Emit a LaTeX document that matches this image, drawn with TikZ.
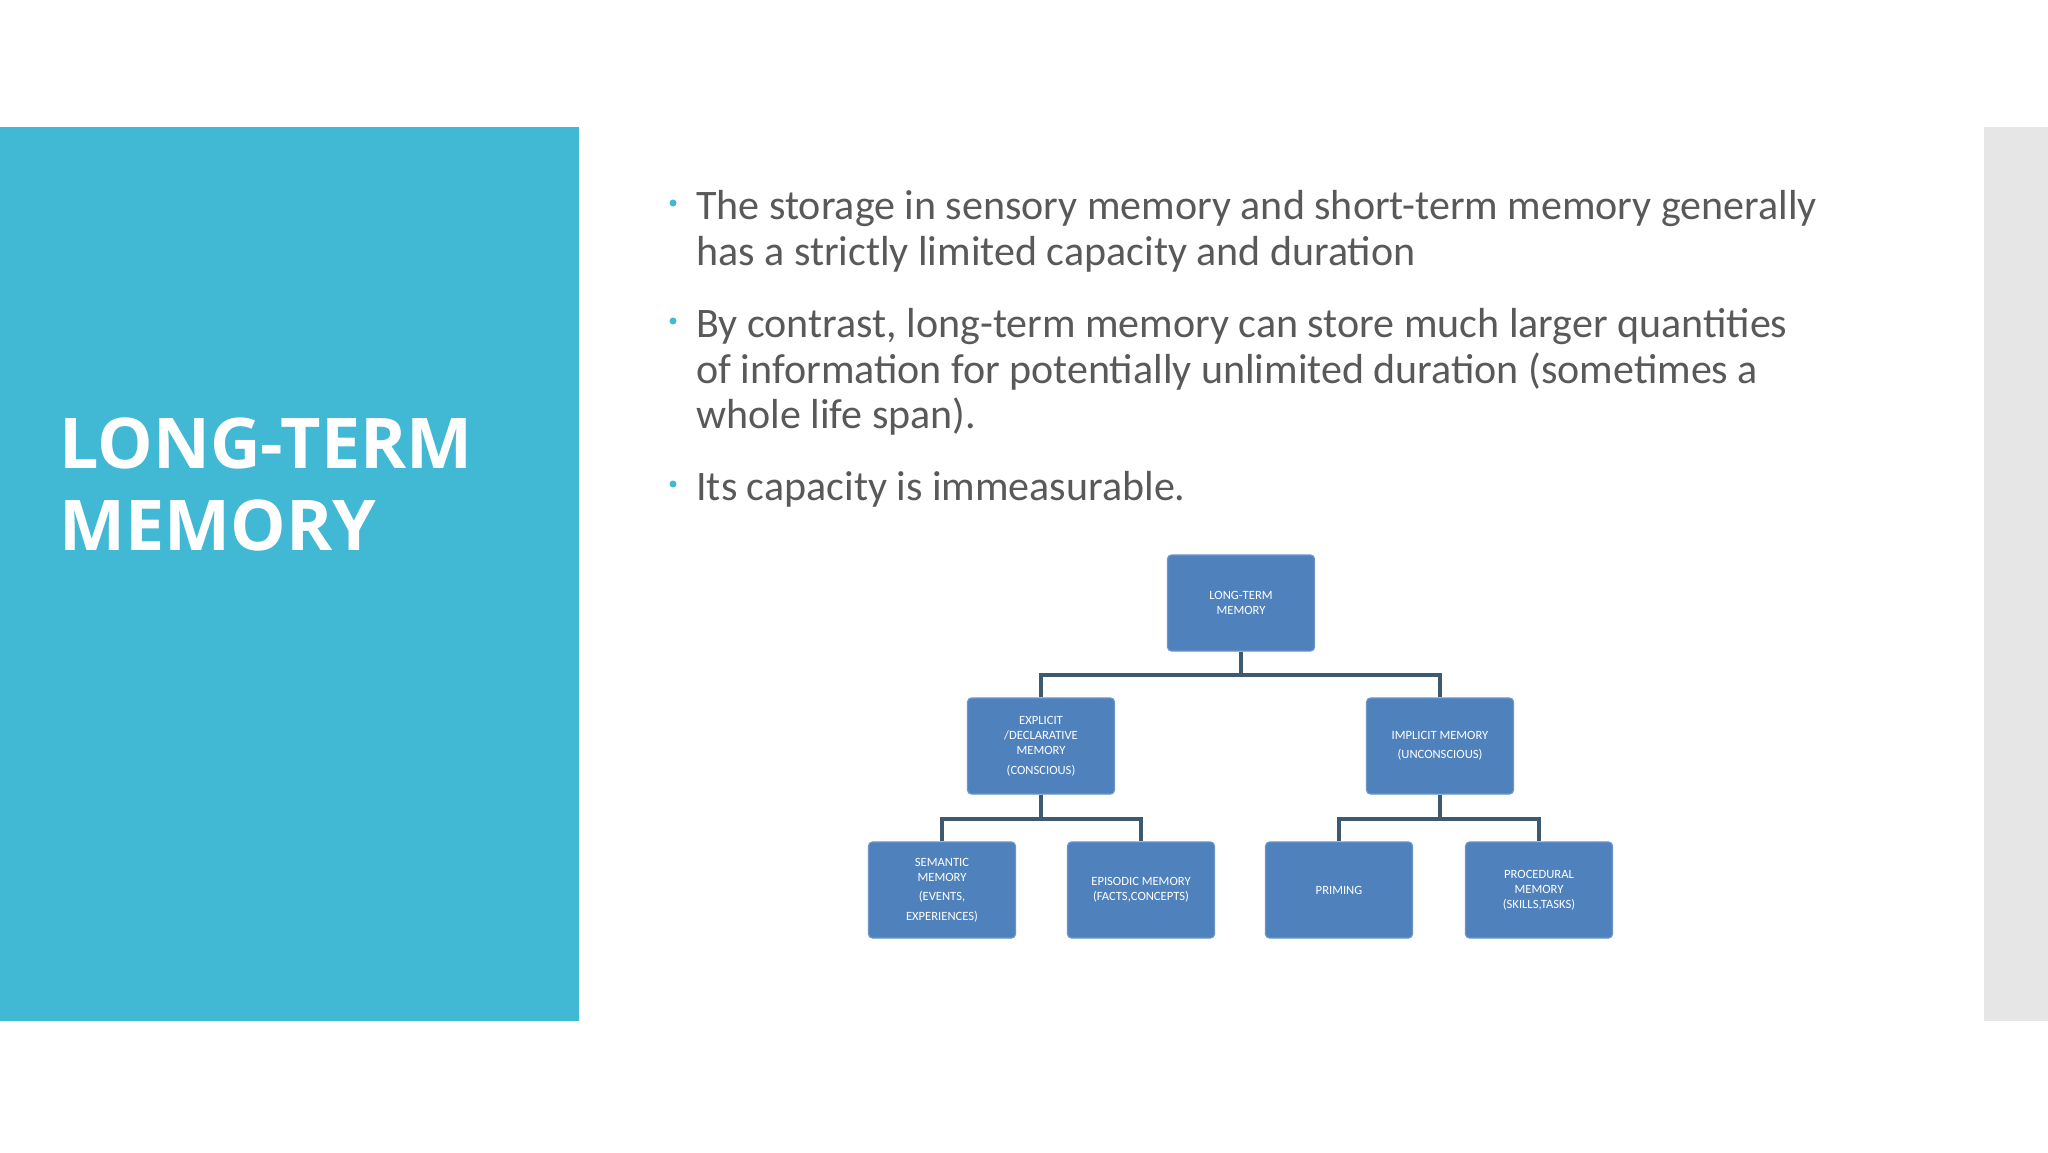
\documentclass[tikz,border=0pt]{standalone}
\usepackage{fontspec}
\setmainfont{Carlito}
\newfontfamily\titlefont{Open Sans}
\definecolor{teal}{HTML}{41B8D4}
\definecolor{strip}{HTML}{E6E6E6}
\definecolor{bodytxt}{HTML}{595959}
\definecolor{boxfill}{HTML}{4F81BD}
\definecolor{boxline}{HTML}{6A96C8}
\definecolor{conn}{HTML}{3E5A70}
\begin{document}
\begin{tikzpicture}[x=0.5pt,y=-0.5pt,
  box/.style={draw=boxline,line width=0.6pt,fill=boxfill,rounded corners=2pt,minimum width=73.5pt,minimum height=48pt,inner sep=1pt,text=white,align=center,font=\fontsize{6.3}{7.6}\selectfont},
  con/.style={draw=conn,line width=2pt},
  bul/.style={anchor=base west,text=bodytxt,font=\fontsize{21}{23}\selectfont,inner sep=0pt},
  dot/.style={circle,fill=teal,inner sep=0pt,minimum size=3.5pt}]
\useasboundingbox (0,0) rectangle (2048,1152);
\fill[white] (0,0) rectangle (2048,1152);
\fill[teal] (0,127) rectangle (579,1021);
\fill[strip] (1984,127) rectangle (2048,1021);
\node[anchor=base west,text=white,align=left,inner sep=0pt,font=\titlefont\bfseries\fontsize{35}{41}\selectfont] (title) at (59,550) {LONG-TERM\\MEMORY};
\node[dot] (b1) at (673,203) {};
\node[bul] (t1) at (696,219) {The storage in sensory memory and short-term memory generally};
\node[bul] (t1b) at (696,265) {has a strictly limited capacity and duration};
\node[dot] (b2) at (673,321) {};
\node[bul] (t2) at (696,337) {By contrast, long-term memory can store much larger quantities};
\node[bul] (t2b) at (696,383) {of information for potentially unlimited duration (sometimes a};
\node[bul] (t2c) at (696,428) {whole life span).};
\node[dot] (b3) at (673,484) {};
\node[bul] (t3) at (696,500) {Its capacity is immeasurable.};
% chart
\node[box] (root) at (1241,603) {LONG-TERM\\MEMORY};
\node[box] (exp) at (1041,746) {EXPLICIT\\/DECLARATIVE\\MEMORY\\[2pt](CONSCIOUS)};
\node[box] (imp) at (1440,746) {IMPLICIT MEMORY\\[2pt](UNCONSCIOUS)};
\node[box] (sem) at (942,890) {SEMANTIC\\MEMORY\\[2pt](EVENTS,\\[2pt]EXPERIENCES)};
\node[box] (epi) at (1141,890) {EPISODIC MEMORY\\(FACTS,CONCEPTS)};
\node[box] (pri) at (1339,890) {PRIMING};
\node[box] (pro) at (1539,890) {PROCEDURAL\\MEMORY\\(SKILLS,TASKS)};
\coordinate (j1) at (1241,675);
\coordinate (j2) at (1041,819);
\coordinate (j3) at (1440,819);
\draw[con] (root.south) -- (j1);
\draw[con] (exp.north) |- (j1) -| (imp.north);
\draw[con] (exp.south) -- (j2);
\draw[con] (sem.north) |- (j2) -| (epi.north);
\draw[con] (imp.south) -- (j3);
\draw[con] (pri.north) |- (j3) -| (pro.north);
\end{tikzpicture}
\end{document}
